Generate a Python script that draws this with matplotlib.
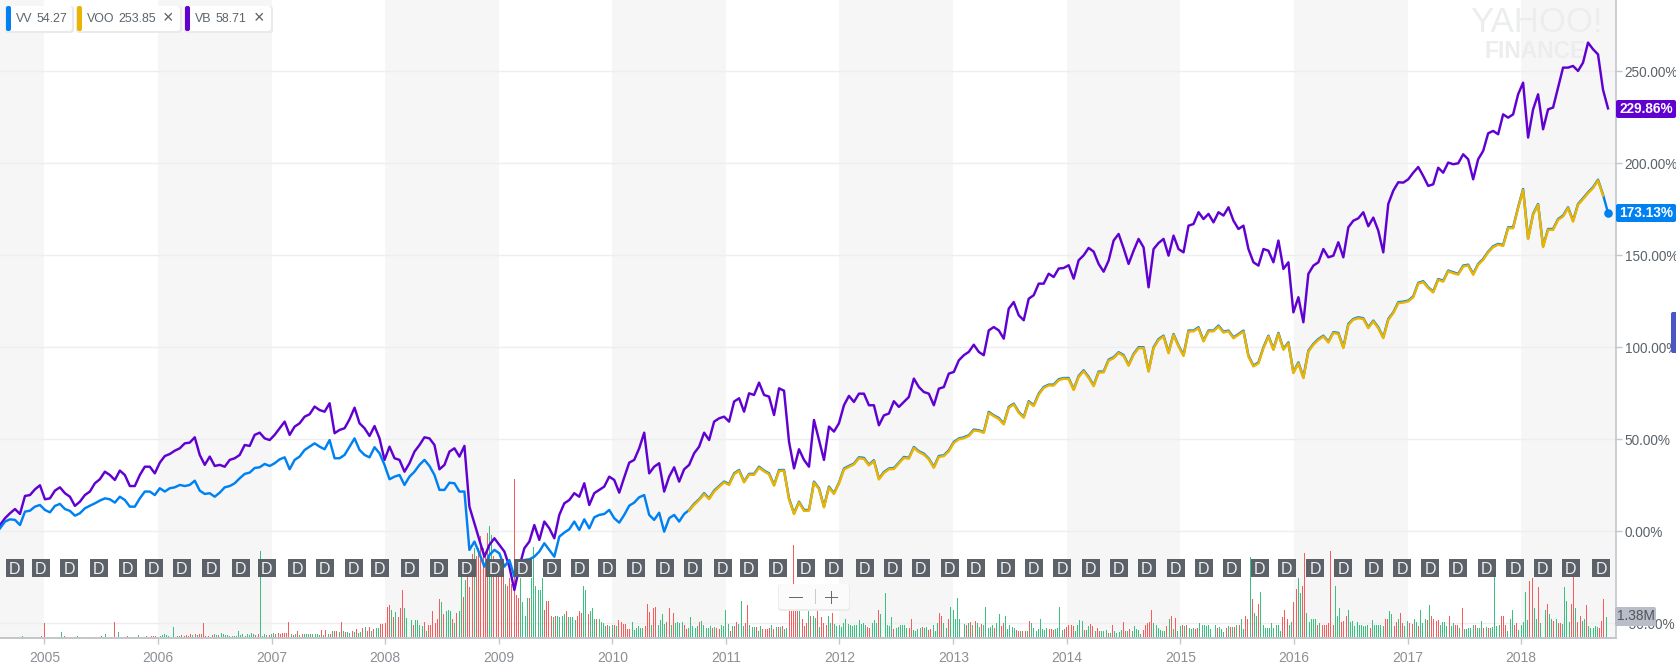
import numpy as np
import pandas as pd
import matplotlib
matplotlib.use("Agg")
import matplotlib.pyplot as plt
from matplotlib.patches import FancyBboxPatch, Rectangle
from matplotlib.transforms import Affine2D

plt.rcParams['font.family'] = ['Liberation Sans', 'DejaVu Sans']

START = pd.Timestamp('2004-08-11')
END = pd.Timestamp('2018-10-07')

vb_values = [3.4,7.1,9.8,12.1,9.4,19.2,19.7,22.8,25,17.4,17.9,22.1,23.9,20.7,18.8,13.8,16.1,19.7,21.6,26.1,28.3,32.4,30.6,27.9,33,30.6,24.6,24.6,30.6,35.1,35.1,31.5,37.3,40.9,42,43.8,45.1,47.8,48.2,51.1,41.5,36.1,40.6,35.5,36.1,35.1,38.8,39.7,41.5,46.9,46.4,52.4,53.6,50.5,49.6,52.4,56,59.6,52.4,56.9,58.7,62.3,63.6,67.8,65.9,65,69.6,53.3,55.1,56,60.9,67.2,58.7,56,51.8,57.2,50.5,38.8,46,39.7,38.8,32.4,37,43.3,46.9,
51.1,50.5,46.9,33.7,36.1,43.3,45.1,40.6,46.4,13.4,4.3,-4.7,-13.8,-7.4,-3.8,-7.4,-11,-19.2,-31.9,-19.2,-9.2,-5.6,3.4,-4.7,5.3,1.6,-3.8,8.9,15.2,17,20.7,18.8,26.1,14.3,20.7,22.5,24.3,29.7,27.9,21,29.3,37.3,38.8,45.1,53.6,31.5,35.1,37,21.6,29.7,34.8,27,33.7,36.1,42.4,46,53.6,49.6,59.6,61.4,62.3,59.6,70.5,72.3,65,75,74.1,80.8,74.1,73.2,63.2,77.7,76.4,48.7,34.2,44.6,38.8,35.1,60.5,49.6,38.8,56.9,54.2,58.7,
68.5,73.6,70.3,74.8,74.8,68.5,68.5,57.6,63,64,70.7,67.6,70.3,73,83,78.4,75.7,74.8,68.5,77.5,78.4,85.7,86.6,92.9,95.7,97.5,101.4,97.5,95.7,109.2,111,109.2,104.7,121,124.6,117.4,114.7,126.4,128.3,134.6,134.6,140,138.2,142.8,143.1,144.6,137.3,147.3,150,154,152,
145.3,141.1,147.1,158,161.6,153.8,145.3,152.5,158.9,154.3,132.6,153.4,156.7,158.9,149.8,160.7,153.4,151.6,166.1,167,173.4,169.7,172.5,167.9,173.4,171.6,176.1,168.8,164.3,166.1,153.4,146.2,144.4,153.4,152.5,146.2,158,142.6,146.2,119,127.2,113.6,139.9,144.4,146.2,153.4,148.9,149.8,157.1,148.9,165.2,168.8,170.1,173.4,165.8,170.5,163.4,151.6,177.9,185.1,189.7,
189.5,191.3,194.9,198,193.1,187.7,188.6,197.6,194.9,200.4,199.5,200,204.9,202.2,191.3,202.2,206.7,216.3,217.6,215.8,226.6,224.8,226.6,237.5,243.8,214,229.3,237.5,218.5,229.3,230.3,241.1,252,252,252.9,250.2,254.7,265.6,262,259.2,240,229.86]

vv_values = [1.6,5.3,6.5,6.2,3.4,10.7,11.2,13.4,14.3,11.6,10.3,13.8,14.9,12.1,11.1,8.5,9.8,12.5,13.9,15.2,16.7,17.9,17.4,15.6,18.8,17,13.4,13.4,17.9,21.6,21.6,19.7,23.4,21.6,23.4,23.9,25.2,24.6,25.2,27.5,22.1,20.3,20.7,18.8,21,23.9,24.6,26.1,28.8,31.2,31.9,34.4,34.8,36.6,35.5,37,39.1,40.2,33.7,38.8,40.6,44.2,46,47.8,46,44.6,49.6,39.7,39.7,41.5,46,50.5,44.2,41.5,40.2,45.7,42.4,36.1,28.3,29.7,30.6,25.2,29.7,32.4,36.1,
38.8,35.5,30.6,22.5,22.5,26.4,26.1,21.6,21.6,-10.1,-5.6,-12,-19.2,-12.9,-10.1,-12,-19.2,-15.6,-24.6,-17.4,-15.6,-15.2,-13.8,-11,-6.5,-10.1,-13.8,-2.9,-0.7,1.1,5.3,0.7,6.5,1.6,7.6,8.9,9.4,11.6,7.1,4.7,8.9,13.9,15.6,18.5,19.7,8.9,6.2,10.1,-0.2,7.1,8.9,5.3,9.4,
11.6,14.9,17.4,20.7,17.9,22.1,24.6,27,25.7,31.5,33.3,27,31.2,31.2,35.1,33,31.5,25.2,33.3,33.3,17.9,9.8,16.1,11.6,11.6,27,23.4,13.4,24.3,20.7,26.4,
34.1,35.5,36.8,40.2,39.9,36.2,38.6,28.6,32.2,34.1,34.4,37.3,40.4,39.9,45.8,43.5,42.2,39.5,35,40.9,41.3,44,48.6,50.4,51.1,52.2,55.3,54.9,54,64.9,63,61.6,58.5,67.6,69.4,64.9,62.1,70.7,68.5,74.8,78.4,79.7,79.7,82.6,83.3,83.3,77.2,84.4,87.5,83.9,79.3,
86.8,86.8,93.3,94.6,97.3,95.8,90.4,96.4,100,100,87.3,100,104.5,106.3,97.3,107.2,100.9,95.8,109.1,109.1,110.9,103.6,109.1,109.1,111.8,108.5,109.1,105.4,107.2,109.1,95.5,90,91.8,100,106.3,99.1,107.8,99.1,102.7,86.4,91.8,83.7,98.2,101.8,104.5,106.3,103.1,108.2,107.8,100,112.7,115.4,116.3,115.8,110.9,114.5,110.9,105.4,115.4,119,124.5,
124.8,125.4,127.7,135,135.9,132.6,130.3,137.1,136.2,141.7,140.8,139.9,144.4,144.9,139.9,145.3,148,152,154.9,156.2,155.6,165.2,165.2,176.1,186,159.2,172.5,177.9,155,164.3,164.3,169.7,171.6,176.1,168.8,177.9,181,184.2,187,191.1,183,173.13]

VOO_FIRST_INDEX = 138
voo_values = [11.2,14.4,17,20.2,17.5,21.6,24.2,26.6,25.2,31,32.9,26.6,30.8,30.7,34.6,32.6,31,24.8,32.8,32.9,17.4,9.4,15.7,11.1,11.2,26.5,23,13,23.8,20.3,26,
33.6,35,36.4,39.7,39.4,35.8,38.1,28.2,31.7,33.7,33.9,36.9,39.9,39.5,45.3,43.1,41.7,39.1,34.5,40.4,40.9,43.5,48.1,50,50.6,51.8,54.8,54.5,53.5,64.4,62.6,61.1,58.1,67.1,69,64.4,61.7,70.2,68.1,74.3,77.9,79.3,79.2,82.1,82.9,82.8,76.8,83.9,87,83.4,78.9,
86.3,86.4,92.8,94.1,96.9,95.3,90,95.9,99.5,99.6,86.8,99.5,104,105.9,96.8,106.7,100.5,95.3,108.6,108.7,110.4,103.2,108.6,108.7,111.3,108,108.7,104.9,106.8,108.6,95,89.6,91.3,99.5,105.9,98.6,107.3,98.7,102.2,86,91.3,83.3,97.7,101.4,104,105.9,102.6,107.8,107.3,99.6,112.2,115,115.8,115.4,110.4,114.1,110.4,105,114.9,118.6,124,
124.3,125,127.2,134.6,135.4,132.2,129.8,136.7,135.7,141.3,140.3,139.5,143.9,144.5,139.4,144.9,147.5,151.6,154.4,155.8,155.1,164.8,164.7,175.7,185.5,158.8,172,177.5,154.5,163.9,163.8,169.3,171.1,175.7,168.3,177.5,180.5,183.8,186.5,190.7,182.5]

# Weekly volume in millions; negative = down week (red), positive = up week (green)
vol_2004 = [.03,-.04,.05,.03,.04,-.03,.06,.05,.1,.12,.1,.08,.05,.06,.07,.08,.07,.09,-.12,-.2]
vol_2005 = [-.98,-.08,.04,.03,.05,.04,.06,.05,.37,-.12,-.08,.03,.05,.06,.07,.12,.1,.07,.1,.06,.09,.05,.07,.05,.08,-.1,-.12,.07,.24,.06,.05,-.09,-1.04,-.1,.37,.06,-.1,-.08,-.12,-.1,-.1,-.07,-.06,.22,.1,.06,-.1,-.12,-.1,-.11,-.12,-.13]
vol_2006 = [.15,.12,.18,.25,.22,.13,.1,.72,.1,.14,.16,-.18,-.15,-.2,-.14,-.24,.22,-.25,.2,-.28,-.24,-.98,-.16,-.15,.1,-.18,.25,.2,-.2,.35,.25,.22,.18,.15,.16,.13,.15,.5,.2,.26,.15,.3,.22,.35,.28,-.2,-.25,5.8,.12,.3,.22,-.2]
vol_2007 = [.3,.35,-.28,-.32,-.3,-.33,-.33,-.33,-1.1,.3,-.2,.25,-.45,.2,-.3,.28,.25,.3,-.28,.27,.28,.3,.2,-.55,.2,-.52,.3,-.25,.45,-.5,-.5,.4,-1.05,.45,-.4,.4,.35,-.45,.38,-.6,.35,.42,-.7,.75,-.5,-.72,.45,-.6,.65,.7,-.95,-.95]
vol_2008 = [-1,-2.1,-2.2,1.85,-1.4,1.75,-1.4,-2,-3.2,2,1.35,1.2,1.2,-.9,1.2,1.2,.85,.8,-1.05,.5,-.9,-.9,-1.8,-1,-1.3,-2.6,2.4,-1.6,1.8,1.85,1.8,-1.25,1,-1.65,1.8,4.3,-2.75,3.9,-5.3,-3.4,-5.6,6,-5.5,-6,-6.8,-6,-5.7,-7,7.5,6.9,-5.5,-5]
vol_2009 = [-5,-4.5,-4.5,3.6,-3.5,-4,-3.6,-10.6,-2.9,-2.7,4,2.4,1.5,2.7,-2.7,4,6.1,3.5,3.2,3.2,4,-1.9,-2.5,-2.5,-1.5,1.4,-1.5,1.5,1.4,1.5,1.6,-1.8,1.4,1.4,1.4,1.2,-1.5,-1.8,-1.7,3.5,3.2,-1.6,1.8,2,1.3,-1.3,1.3,1.1,1,.8,-.85,.8]
vol_2010 = [.85,-.85,.8,-1.2,-1.1,-.95,-.95,-.6,-.6,1.1,.55,.7,.8,.65,.7,-.8,-2.3,-1.75,.9,-2,-2.05,.9,1.2,1.6,.95,-1.1,-2,.85,-1.7,1,1.1,1,1.05,-.85,-.6,.7,1.4,.8,.7,.8,-1.1,1.15,.85,.7,.7,.8,-.7,.75,-.65,-.6,.9,.8]
vol_2011 = [1.9,.95,-.5,.8,-.8,-1.1,.95,2.5,.8,-1,-2.2,.85,.75,.75,-.75,.5,.8,-.6,-.6,-.6,-.65,.85,-.6,.75,-.75,.75,-.8,.6,.7,-2,-2.3,-6.2,-2.4,-1.8,2.4,-1.3,-.8,-1,2,-1.5,1.45,1.35,-1.9,.75,-1.4,-1,-.9,1.5,1,-1.7,.95,.8]
vol_2012 = [.9,.75,1,1.25,.95,.85,.8,.85,.9,1.2,.95,1,.9,-.75,-.7,1,1.2,1,-1.9,1.6,-.9,3,.85,.8,1.4,-.6,.7,.75,.85,.9,.85,.65,-.7,-1.3,.55,.5,.6,.65,-.75,.7,.75,-.55,-.6,.85,.5,1,-1.65,-1.5,1,.7,-1.3,2.1]
vol_2013 = [1.85,1.3,2.7,1.25,1,.95,-.85,1,-1.1,.9,-1.15,1,.75,-.95,.85,2.1,.65,.75,.85,-.65,1,1.6,-.8,-1,1.5,.6,.9,.75,.7,-.55,-.5,.5,-.5,-.5,.5,-1.15,1,.7,.5,.6,1.25,.6,.55,.65,-.6,-.6,-.55,.6,.7,2.1,.55,-.6]
vol_2014 = [-.75,-.85,-.9,-.8,.5,.85,1.2,1.15,-.55,.55,.8,-.95,-.8,.5,-.7,-.45,.5,.5,.55,-.35,.35,-.85,.5,.35,.4,.55,-1.1,-.5,.5,-.6,.5,.8,.6,.55,.3,-.55,-.9,-1,-1.1,-1.9,1,.9,.7,.55,.45,.5,-.8,1.3,-1.5,.6,-1.35,.5]
vol_2015 = [.8,-.9,.8,-.9,.65,.6,.65,-.6,-.7,1,.9,.9,.8,.85,.6,-3.4,.85,-.7,.75,.6,.4,-.7,.8,-.75,.75,-.75,.9,-.9,1.25,.6,-1.5,-1.25,5.4,-2.6,1.65,1.5,-2.3,3.1,.85,.7,.7,.65,1,.7,.85,.9,.5,-1.4,-1.9,-1.3,.9,1.1]
vol_2016 = [-2.4,-3.3,4,3,-3.5,-5.7,1.65,1.1,1.3,1.25,1.3,-.9,1,-.85,-.9,-.85,-1,-5.8,-.9,3.5,1.45,2,-1.1,-1.15,-1.5,1.9,1.1,1.15,.8,1.1,.9,.85,.8,.8,.9,-.7,1.2,.85,.85,.9,.85,.8,-1.3,-1.3,1.8,1.6,-.8,-1.1,1.3,-1.7,-1,.8]
vol_2017 = [1.15,-1,-.95,1.25,1.1,-.8,1.9,1,1.3,-1.2,2.2,-1.45,-1.25,-1.15,-1.2,.9,1.1,1.1,.8,-1.45,.8,1,-.85,-.85,.7,-2,.6,.6,.65,.7,.85,-.85,.7,.65,1.15,-.65,.75,-.65,.7,.75,4.5,.8,.9,-1.5,-1.5,-.85,.5,1.3,1.9,-.9,-1,.55]
vol_2018 = [.9,1.05,3.1,1.2,-3.8,-4,2,1.25,-3.4,1,-1.6,1.85,-2.3,1.6,1.25,-1.15,1.25,-1,-1,.95,3.4,2.5,1.1,-2.3,-4.1,2,-1.05,-1.5,1.15,1.3,-2.2,.8,.7,.7,.8,.75,-.7,-1.15,-2.6,1.38]

year_ticks = list(range(2005, 2019))
pct_ticks = [-50, 0, 50, 100, 150, 200, 250]
dividend_dates = ['2004-09-28','2004-12-20','2005-03-21','2005-06-24','2005-09-26','2005-12-18','2006-03-18','2006-06-22','2006-09-24','2006-12-16','2007-03-24','2007-06-21','2007-09-22','2007-12-15','2008-03-21','2008-06-22','2008-09-20','2008-12-19','2009-03-19','2009-06-20','2009-09-18','2009-12-16','2010-03-18','2010-06-19','2010-09-17','2010-12-22','2011-03-16','2011-06-17','2011-09-15','2011-12-14','2012-03-23','2012-06-21','2012-09-19','2012-12-21','2013-03-15','2013-06-19','2013-09-17','2013-12-18','2014-03-19','2014-06-17','2014-09-15','2014-12-17','2015-03-17','2015-06-16','2015-09-13','2015-12-09','2016-03-09','2016-06-08','2016-09-14','2016-12-14','2017-03-14','2017-06-11','2017-09-12','2017-12-12','2018-03-11','2018-06-09','2018-09-16']

VB_C, VV_C, VOO_C = '#6001d2', '#0081f2', '#ebb400'
UP_C, DOWN_C = '#3cc082', '#f75c5c'
GRAY_TXT = '#5b636a'

W, H = 1676, 667
AX_R, AX_B = 1616.4, 638.0
PX_PER_PCT = 1.84
ZERO_Y = 531.3
PX_PER_M = 15.0

fig = plt.figure(figsize=(W/100, H/100), dpi=100, facecolor='white')
ax2 = fig.add_axes([0, (H-AX_B)/H, AX_R/W, AX_B/H])
ax = ax2.twinx()
ax.set_zorder(2); ax.patch.set_visible(False)
ax2.set_zorder(1)

ax.set_ylim(-(AX_B-ZERO_Y)/PX_PER_PCT, ZERO_Y/PX_PER_PCT)
ax2.set_ylim(0, AX_B/PX_PER_M)
ax2.set_xlim(START, pd.Timestamp('2018-11-03'))

# alternating year bands
band_edges = [START] + [pd.Timestamp(f'{y}-01-01') for y in year_ticks] + [pd.Timestamp('2018-11-03')]
for i in range(0, len(band_edges)-1, 2):
    ax2.axvspan(band_edges[i], band_edges[i+1], color='#f6f6f6', lw=0, zorder=0)
for p in pct_ticks:
    ax2.axhline((p*PX_PER_PCT + AX_B - ZERO_Y)/PX_PER_M, color='#eeeeee', lw=1, zorder=1)

# volume
years = {2005: vol_2005, 2006: vol_2006, 2007: vol_2007, 2008: vol_2008, 2009: vol_2009, 2010: vol_2010,
         2011: vol_2011, 2012: vol_2012, 2013: vol_2013, 2014: vol_2014, 2015: vol_2015, 2016: vol_2016,
         2017: vol_2017, 2018: vol_2018}
vd, vh = [], []
for i, v in enumerate(vol_2004):
    vd.append(pd.Timestamp('2004-08-20') + pd.Timedelta(days=7*i)); vh.append(v)
for y, lst in years.items():
    for i, v in enumerate(lst):
        vd.append(pd.Timestamp(f'{y}-01-01') + pd.Timedelta(days=7*i)); vh.append(v)
vh = np.array(vh)
ax2.bar(vd, np.abs(vh), width=3.2, color=[UP_C if v > 0 else DOWN_C for v in vh], lw=0, zorder=2)

# lines
dates = pd.date_range(START, END, periods=len(vv_values))
dates_vb = pd.date_range(START, END, periods=len(vb_values))
ax.plot(dates_vb, vb_values, color=VB_C, lw=1.75, zorder=3)
ax.plot(dates, vv_values, color=VV_C, lw=1.75, zorder=4)
ax.plot(dates[VOO_FIRST_INDEX:VOO_FIRST_INDEX+len(voo_values)], voo_values, color=VOO_C, lw=1.75, zorder=5)
ax.plot([dates[-1]], [vv_values[-1]], 'o', color=VV_C, ms=6.2, mew=0, zorder=6, clip_on=False)

# dividend markers
dd = pd.to_datetime(dividend_dates)
D_Y = (AX_B-568)/AX_B
tr = ax.get_xaxis_transform()
ax.scatter(dd, [D_Y]*len(dd), transform=tr, marker='s', s=165, color='#565b63', alpha=.96, lw=0, zorder=7)
for d in dd:
    ax.text(d, D_Y, 'D', transform=tr, color='#eef0f1', ha='center', va='center_baseline', fontsize=11.5, zorder=8)

# axes cosmetics
for a in (ax, ax2):
    for s in ('top', 'left'):
        a.spines[s].set_visible(False)
    for s in ('right', 'bottom'):
        a.spines[s].set_color('#c3c7cb'); a.spines[s].set_linewidth(1.2)
ax2.spines['right'].set_visible(False)
ax2.yaxis.set_visible(False)
ax.set_yticks(pct_ticks)
ax.set_yticklabels([f'{p:.2f}%' for p in pct_ticks], fontsize=9.8, color=GRAY_TXT)
ax.tick_params(axis='y', length=4, width=1, color='#c3c7cb', pad=2)
ax2.set_xticks([pd.Timestamp(f'{y}-01-01') for y in year_ticks])
ax2.set_xticklabels([str(y) for y in year_ticks], fontsize=10, color='#8b9095')
ax2.tick_params(axis='x', length=4, width=1, color='#c3c7cb', pad=5)

# pixel-space overlays
px = Affine2D().scale(1, -1).translate(0, H)

def box(x0, y0, x1, y1, fc, r=2, z=10):
    p = FancyBboxPatch((x0+r, y0+r), x1-x0-2*r, y1-y0-2*r, boxstyle=f'round,pad={r},rounding_size={r}',
                       fc=fc, ec='none', lw=0, transform=px, zorder=z)
    fig.add_artist(p)

def txt(x, y, s, **k):
    k.setdefault('va', 'center'); k.setdefault('zorder', 12)
    fig.text(x, y, s, transform=px, **k)

# watermark
txt(1536, 23, 'YAHOO!', fontsize=25, color='#ecedee', ha='center', zorder=1.5)
txt(1535, 52, 'FINANCE', fontsize=16.5, color='#ecedee', ha='center', weight='bold', zorder=1.5)

# legend chips
chips = [(6, 72, VV_C, 'VV', '54.27', False), (77, 180, VOO_C, 'VOO', '253.85', True), (185, 271, VB_C, 'VB', '58.71', True)]
for x0, x1, c, name, val, closable in chips:
    box(x0-1, 6, x1+2, 33, '#eaeaea', r=3, z=9)
    box(x0, 6, x1, 31, 'white', r=3, z=10)
    box(x0, 6, x0+5, 31, c, r=2, z=11)
    txt(x0+10, 19, name, fontsize=8.9, color=GRAY_TXT)
    w = {'VV': 16, 'VOO': 26, 'VB': 16}[name]
    txt(x0+10+w+5, 19, val, fontsize=8.9, color=GRAY_TXT)
    if closable:
        txt(x1-12, 18.5, '\u00d7', fontsize=13, color=GRAY_TXT, ha='center')

# value tags
box(1616, 100, 1676, 118, VB_C, r=2)
txt(1646, 108.8, '229.86%', fontsize=9.8, color='white', ha='center', weight='bold')
box(1616, 204, 1676, 222, VV_C, r=2)
txt(1646, 212.8, '173.13%', fontsize=9.8, color='white', ha='center', weight='bold')
box(1615, 607, 1656, 626, '#b9bdc7', r=2)
txt(1635.5, 616.5, '1.38M', fontsize=9.8, color='#4f555c', ha='center')

# side handle
box(1671, 312, 1680, 353, '#4a55c6', r=2)

# zoom control
box(778, 584, 850, 611, '#ececec', r=3, z=9)
box(779, 584, 849, 609, '#fbfbfb', r=3, z=10)
fig.add_artist(Rectangle((789, 596.5), 14, 1.4, fc='#666b70', ec='none', transform=px, zorder=11))
fig.add_artist(Rectangle((815.3, 589), 0.9, 15, fc='#c9cccf', ec='none', transform=px, zorder=11))
fig.add_artist(Rectangle((825, 596.5), 13, 1.2, fc='#666b70', ec='none', transform=px, zorder=11))
fig.add_artist(Rectangle((831, 590.5), 1.2, 13, fc='#666b70', ec='none', transform=px, zorder=11))

fig.savefig('out.png', dpi=100, facecolor='white')
